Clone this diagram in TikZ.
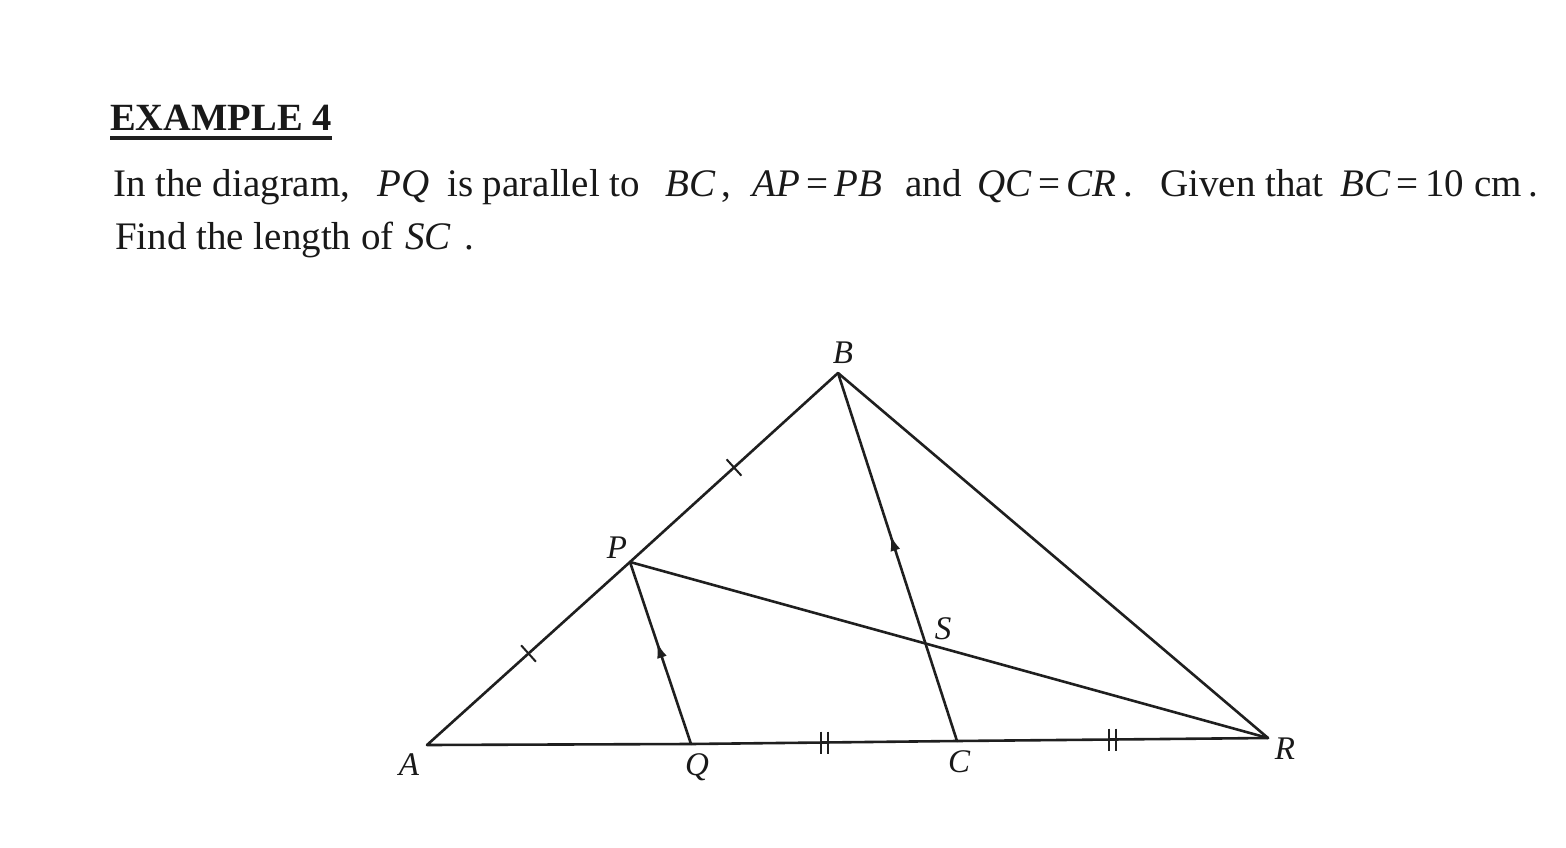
\documentclass[tikz,border=0pt]{standalone}
\usepackage{fontspec}
\setmainfont{Liberation Serif}
\usetikzlibrary{calc,arrows.meta,decorations.markings}
\tikzset{
  edge/.style={line width=2.6pt, draw=black!88, line cap=round, line join=round},
  tick/.style={line width=2pt, draw=black!88},
  midarrow/.style={postaction={decorate,decoration={markings,
      mark=at position 0.56 with {\arrow{Latex[length=16pt,width=10pt]}}}}},
  ptlabel/.style={font=\fontsize{33}{33}\selectfont\itshape, inner sep=0pt, text=black!90},
  bodytext/.style={font=\fontsize{39}{39}\selectfont, anchor=base west, inner sep=0pt, text=black!90},
}
\begin{document}
\begin{tikzpicture}[x=1pt,y=-1pt]
\useasboundingbox (0,0) rectangle (1566,848);
\fill[white] (0,0) rectangle (1566,848);

% heading
\node[font=\fontsize{38.5}{38.5}\selectfont\bfseries, anchor=base west, inner sep=0pt, text=black!90] (head) at (110,131) {EXAMPLE 4};
\draw[line width=3.2pt, black!88] (head.south west |- 0,138) coordinate (ul1) -- (head.south east |- 0,138) coordinate (ul2);

% line 1
\node[bodytext] (t1) at (113,196) {In the diagram,};
\node[bodytext] (t2) at (377,196) {\textit{PQ}};
\node[bodytext] (t3) at (447,196) {is parallel to};
\node[bodytext] (t4) at (665,196) {\textit{BC}\,,};
\node[bodytext] (t5) at (752,196) {\textit{AP}\,=\,\textit{PB}};
\node[bodytext] (t6) at (905,196) {and};
\node[bodytext] (t7) at (977,196) {\textit{QC}\,=\,\textit{CR}\,.};
\node[bodytext] (t8) at (1160,196) {Given that};
\node[bodytext] (t9) at (1340,196) {\textit{BC}\,=\,10 cm\,.};
% line 2
\node[bodytext] (t10) at (115,249) {Find the length of};
\node[bodytext] (t11) at (405,249) {\textit{SC}\,\,.};

% points
\coordinate (A) at (427,745);
\coordinate (B) at (838,373);
\coordinate (P) at (630,562);
\coordinate (Q) at (691,744);
\coordinate (C) at (957,741);
\coordinate (R) at (1268,738);
\coordinate (S) at (intersection of P--R and B--C);

% sides
\draw[edge] (A) -- (P) -- (B) -- (R) -- (C) -- (Q) -- cycle;
\draw[edge] (P) -- (R);
\draw[edge,midarrow] (Q) -- (P);
\draw[edge,midarrow] (C) -- (B);

% equal-length ticks
\coordinate (m1) at ($(A)!0.5!(P)$);
\coordinate (m2) at ($(P)!0.5!(B)$);
\draw[tick] ($(m1)!11pt!90:(P)$) -- ($(m1)!11pt!-90:(P)$);
\draw[tick] ($(m2)!11pt!90:(B)$) -- ($(m2)!11pt!-90:(B)$);
\coordinate (m3) at ($(Q)!0.5!(C)$);
\coordinate (m4) at ($(C)!0.5!(R)$);
\foreach \m in {m3,m4}{
  \draw[tick] ($(\m)+(-3.5,-11)$) -- ($(\m)+(-3.5,11)$);
  \draw[tick] ($(\m)+(3.5,-11)$) -- ($(\m)+(3.5,11)$);
}

% labels
\node[ptlabel] (lB) at (843,353) {B};
\node[ptlabel] (lP) at (617,548) {P};
\node[ptlabel] (lA) at (409,765) {A};
\node[ptlabel] (lQ) at (697,767) {Q};
\node[ptlabel] (lC) at (959,762) {C};
\node[ptlabel] (lR) at (1285,749) {R};
\node[ptlabel] (lS) at (943,629) {S};
\end{tikzpicture}
\end{document}
